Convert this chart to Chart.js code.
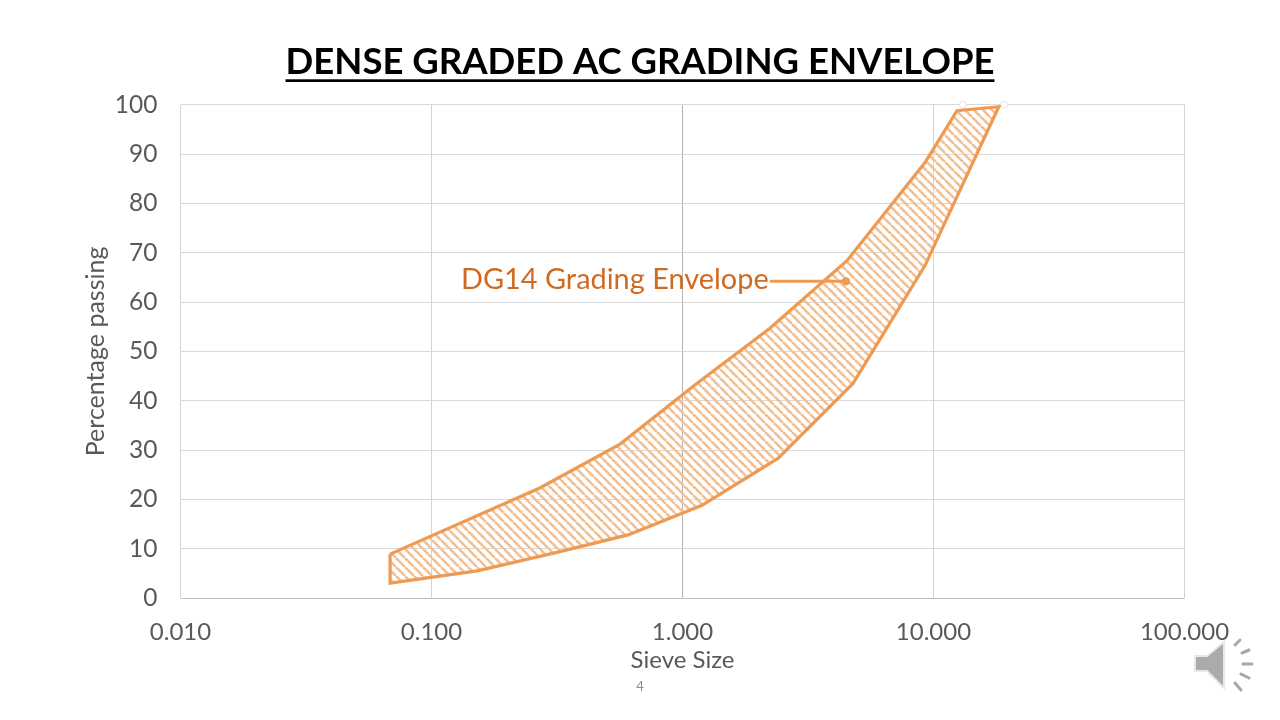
<!DOCTYPE html>
<html>
<head>
<meta charset="utf-8">
<style>
  html, body { margin: 0; padding: 0; background: #fff; }
  canvas { display: block; }
</style>
<script src="https://cdn.jsdelivr.net/npm/chart.js@4/dist/chart.umd.min.js"></script>
</head>
<body>
<canvas id="chart" width="1280" height="720"></canvas>
<script>
// values
const upperSieve = [0.0684, 0.27, 0.564, 1.14, 2.23, 4.52, 9.25, 12.4, 18.2];
const upperPassing = [8.9, 22.3, 31.2, 43.5, 54.7, 68.4, 88.3, 98.8, 99.6];
const lowerSieve = [0.0684, 0.152, 0.319, 0.607, 1.196, 2.40, 4.78, 9.25, 18.2];
const lowerPassing = [3.0, 5.5, 9.3, 12.8, 18.8, 28.3, 43.5, 67.4, 99.6];
const leaderSieve = [2.23, 4.48];
const leaderPassing = [64.2, 64.2];
const ghostSieve = [13.1, 19.1];
const ghostPassing = [100, 100];
const xTicks = [0.01, 0.1, 1, 10, 100];
const yTicks = [0, 10, 20, 30, 40, 50, 60, 70, 80, 90, 100];

const titleText = 'DENSE GRADED AC GRADING ENVELOPE';
const envelopeLabel = 'DG14 Grading Envelope';
const pageNumber = '4';

const LINE = '#EE9A52';
const HATCH = '#F2BF93';
const LABEL = '#CF6A22';
const GREY = '#595959';

function pts(xs, ys) { return xs.map((x, i) => ({ x: x, y: ys[i] })); }

function hatchPattern() {
  const c = document.createElement('canvas');
  c.width = 9; c.height = 9;
  const g = c.getContext('2d');
  g.strokeStyle = HATCH;
  g.lineWidth = 2.6;
  [-9, 0, 9].forEach(o => {
    g.beginPath();
    g.moveTo(o, 0);
    g.lineTo(o + 9, 9);
    g.stroke();
  });
  return g.createPattern(c, 'repeat');
}

// closed outline: up the top edge, back along the bottom edge, then up the left side
const outline = pts(upperSieve, upperPassing).concat(pts(lowerSieve, lowerPassing).reverse());
outline.push(outline[0]);

const extras = {
  id: 'extras',
  afterDraw(chart) {
    const c = chart.ctx;
    c.save();
    // title underline
    c.font = 'bold 36.5px Lato';
    const w = c.measureText(titleText).width;
    c.fillStyle = '#000';
    c.fillRect(640 - w / 2, 79.3, w, 2.7);
    // envelope label
    c.font = '28.9px Lato';
    c.fillStyle = LABEL;
    c.textAlign = 'left';
    c.textBaseline = 'middle';
    c.fillText(envelopeLabel, 461, 280);
    // page number
    c.font = '13px Lato';
    c.fillStyle = '#8c8c8c';
    c.textAlign = 'center';
    c.fillText(pageNumber, 640, 687);
    // speaker icon
    c.fillStyle = '#ABABAB';
    c.strokeStyle = '#E8E8E8';
    c.lineWidth = 2;
    c.beginPath();
    c.moveTo(1195, 656); c.lineTo(1207, 656); c.lineTo(1224, 642);
    c.lineTo(1224, 688); c.lineTo(1207, 671); c.lineTo(1195, 671);
    c.closePath();
    c.fill(); c.stroke();
    c.strokeStyle = '#A8A8A8';
    c.lineWidth = 3;
    c.lineCap = 'round';
    [[1235, 645, 1240, 640], [1242, 653, 1249, 650], [1243, 664, 1252, 664],
     [1241, 674, 1249, 678], [1235, 683, 1241, 690]].forEach(s => {
      c.beginPath(); c.moveTo(s[0], s[1]); c.lineTo(s[2], s[3]); c.stroke();
    });
    c.restore();
  }
};

new Chart(document.getElementById('chart'), {
  type: 'scatter',
  data: {
    datasets: [
      {
        data: pts(leaderSieve, leaderPassing),
        showLine: true,
        borderColor: LINE,
        borderWidth: 3,
        pointRadius: [0, 4],
        pointBackgroundColor: LINE,
        pointBorderWidth: 0
      },
      {
        data: outline,
        showLine: true,
        tension: 0,
        borderColor: LINE,
        borderWidth: 3.2,
        pointRadius: 0,
        fill: 'shape',
        backgroundColor: hatchPattern()
      },
      {
        data: pts(ghostSieve, ghostPassing),
        showLine: false,
        pointRadius: 3.5,
        pointBackgroundColor: '#fff',
        pointBorderColor: '#EADDE4',
        pointBorderWidth: 1,
        clip: false
      }
    ]
  },
  plugins: [extras],
  options: {
    responsive: false,
    animation: false,
    layout: { padding: { left: 0, right: 0, top: 0, bottom: 45 } },
    plugins: {
      legend: { display: false },
      tooltip: { enabled: false },
      title: {
        display: true,
        text: titleText,
        color: '#000',
        font: { family: 'Lato', size: 36.5, weight: 'bold' },
        padding: { top: 40, bottom: 21 }
      }
    },
    scales: {
      x: {
        type: 'logarithmic',
        min: 0.01,
        max: 100,
        afterBuildTicks(axis) { axis.ticks = xTicks.map(v => ({ value: v, major: true })); },
        afterFit(axis) { axis.height = 77; },
        grid: {
          color: ctx => ctx.tick && ctx.tick.value === 1 ? '#B4B4B4' : '#D4D4D4',
          lineWidth: 1,
          drawTicks: false
        },
        border: { display: false },
        ticks: {
          color: GREY,
          font: { family: 'Lato', size: 24 },
          maxRotation: 0,
          autoSkip: false,
          padding: 20,
          callback: v => Number(v).toFixed(3)
        },
        title: {
          display: true,
          text: 'Sieve Size',
          color: GREY,
          font: { family: 'Lato', size: 24 },
          padding: { top: 0, bottom: 0 }
        }
      },
      y: {
        min: 0,
        max: 100,
        afterBuildTicks(axis) { axis.ticks = yTicks.map(v => ({ value: v })); },
        afterFit(axis) { axis.width = 180.5; },
        grid: {
          color: ctx => ctx.tick && ctx.tick.value === 0 ? '#BFBFBF' : '#D9D9D9',
          lineWidth: 1,
          drawTicks: false
        },
        border: { display: false },
        ticks: {
          color: GREY,
          font: { family: 'Lato', size: 24.5 },
          padding: 23
        },
        title: {
          display: true,
          text: 'Percentage passing',
          color: GREY,
          font: { family: 'Lato', size: 25 },
          padding: { top: 81, bottom: 0 }
        }
      },
      // empty axis only keeps the right margin, so the title stays centred on the page
      margin: {
        position: 'right',
        grid: { display: false },
        border: { display: false },
        ticks: { display: false },
        afterFit(axis) { axis.width = 95.5; }
      }
    }
  }
});
</script>
</body>
</html>
